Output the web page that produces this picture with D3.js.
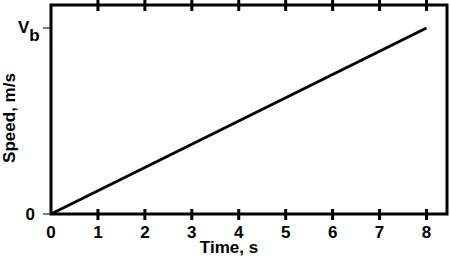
<!DOCTYPE html>
<html>
<head>
<meta charset="utf-8">
<script src="https://d3js.org/d3.v7.min.js"></script>
<style>
body { margin: 0; background: white; }
text { font-family: "Liberation Sans", Arial, sans-serif; font-weight: bold; fill: black; }
</style>
</head>
<body>
<svg width="450" height="264"></svg>
<script>
// data, speed in units of Vb
var timeVals = [0, 8];
var speedVals = [0, 1];
var xTicks = [0, 1, 2, 3, 4, 5, 6, 7, 8];
var yTicks = [0, 1];
var yTickLabels = ["0", "V"];

var plotLeft = 51, plotRight = 447, plotTop = 5, plotBottom = 214;

var svg = d3.select("svg");

var x = d3.scaleLinear().domain([0, 8.437]).range([plotLeft, plotRight]);
var y = d3.scaleLinear().domain([0, 1.1237]).range([plotBottom, plotTop]);

// frame
svg.append("rect")
    .attr("x", plotLeft).attr("y", plotTop)
    .attr("width", plotRight - plotLeft).attr("height", plotBottom - plotTop)
    .attr("fill", "none").attr("stroke", "black").attr("stroke-width", 3);

// bottom and top ticks crossing the frame
[plotBottom, plotTop].forEach(function(yy) {
  svg.append("g").selectAll("line")
    .data(xTicks.slice(1))
    .enter().append("line")
      .attr("x1", function(d) { return x(d); })
      .attr("x2", function(d) { return x(d); })
      .attr("y1", yy - 5).attr("y2", yy + 6)
      .attr("stroke", "black").attr("stroke-width", 3);
});

// x tick labels
svg.append("g").selectAll("text")
  .data(xTicks)
  .enter().append("text")
    .attr("x", function(d) { return x(d); })
    .attr("y", 238)
    .attr("text-anchor", "middle")
    .style("font-size", "17px")
    .text(function(d) { return d; });

// y ticks
svg.append("g").selectAll("line")
  .data(yTicks)
  .enter().append("line")
    .attr("x1", plotLeft - 8).attr("x2", plotLeft)
    .attr("y1", function(d) { return y(d); })
    .attr("y2", function(d) { return y(d); })
    .attr("stroke", "black").attr("stroke-width", 1);

svg.append("text")
    .attr("x", 35).attr("y", y(0) + 6)
    .attr("text-anchor", "end")
    .style("font-size", "17px")
    .text(yTickLabels[0]);

var vb = svg.append("text")
    .attr("x", 18).attr("y", y(1) + 5)
    .style("font-size", "17px");
vb.append("tspan").text(yTickLabels[1]);
vb.append("tspan").attr("dy", 8).text("b");

// line
svg.append("path")
    .datum(d3.zip(timeVals, speedVals))
    .attr("fill", "none").attr("stroke", "black").attr("stroke-width", 3)
    .attr("d", d3.line().x(function(d) { return x(d[0]); }).y(function(d) { return y(d[1]); }));

// axis titles
svg.append("text")
    .attr("x", 229).attr("y", 253)
    .attr("text-anchor", "middle")
    .style("font-size", "17px")
    .text("Time, s");

svg.append("text")
    .attr("transform", "translate(15,118) rotate(-90)")
    .attr("text-anchor", "middle")
    .style("font-size", "17px")
    .text("Speed, m/s");
</script>
</body>
</html>
